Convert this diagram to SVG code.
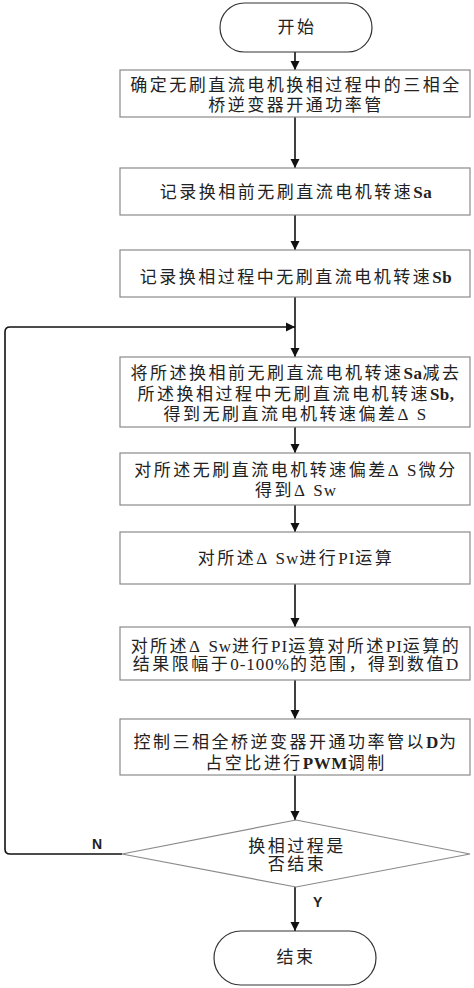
<svg xmlns="http://www.w3.org/2000/svg" width="474" height="988" viewBox="0 0 474 988">
<style>
.box{fill:#fff;stroke:#8a8a8a;stroke-width:1.2}
.term{fill:#fff;stroke:#333;stroke-width:1.2}
.t{font-family:"Liberation Serif","Noto Sans CJK SC",serif;font-size:17px;fill:#222;text-anchor:middle;letter-spacing:2.5px}
.b{font-weight:bold;letter-spacing:0.5px}
.l{letter-spacing:1px}
.lbl{font-family:"Liberation Sans",Arial,sans-serif;font-size:14px;font-weight:bold;fill:#222}
.ln{fill:none;stroke:#111;stroke-width:1.6}
</style>
<defs>
<marker id="ah" markerWidth="10" markerHeight="10" refX="9" refY="5" orient="auto" markerUnits="userSpaceOnUse">
<path d="M0,0.5 L9,5 L0,9.5 Z" fill="#111"/>
</marker>
</defs>
<rect width="474" height="988" fill="#fff"/>
<g id="connectors">
<line class="ln" x1="295" y1="52" x2="295" y2="70" marker-end="url(#ah)"/>
<line class="ln" x1="295" y1="117" x2="295" y2="168" marker-end="url(#ah)"/>
<line class="ln" x1="295" y1="215" x2="295" y2="250" marker-end="url(#ah)"/>
<line class="ln" x1="295" y1="297" x2="295" y2="357" marker-end="url(#ah)"/>
<line class="ln" x1="295" y1="427" x2="295" y2="453" marker-end="url(#ah)"/>
<line class="ln" x1="295" y1="505" x2="295" y2="532" marker-end="url(#ah)"/>
<line class="ln" x1="295" y1="584" x2="295" y2="627" marker-end="url(#ah)"/>
<line class="ln" x1="295" y1="680" x2="295" y2="719" marker-end="url(#ah)"/>
<line class="ln" x1="295" y1="775" x2="295" y2="820" marker-end="url(#ah)"/>
<line class="ln" x1="295" y1="887" x2="295" y2="931" marker-end="url(#ah)"/>
<path class="ln" d="M122,854 L10,854 Q5,854 5,849 L5,332 Q5,327 10,327 L295,327" marker-end="url(#ah)"/>
<text class="lbl" x="92" y="849">N</text>
<text class="lbl" x="313" y="907">Y</text>
</g>
<g id="start">
<rect class="term" x="220" y="3" width="152" height="49" rx="24.5" ry="24.5"/>
<text class="t" x="297" y="33">开始</text>
</g>
<g id="step1">
<rect class="box" x="120" y="70" width="350" height="47"/>
<text class="t" x="296" y="91">确定无刷直流电机换相过程中的三相全</text>
<text class="t" x="296" y="111">桥逆变器开通功率管</text>
</g>
<g id="step2">
<rect class="box" x="120" y="168" width="350" height="47"/>
<text class="t" x="296" y="198">记录换相前无刷直流电机转速<tspan class="b">Sa</tspan></text>
</g>
<g id="step3">
<rect class="box" x="120" y="250" width="350" height="47"/>
<text class="t" x="296" y="283">记录换相过程中无刷直流电机转速<tspan class="b">Sb</tspan></text>
</g>
<g id="step4">
<rect class="box" x="120" y="357" width="350" height="70"/>
<text class="t" x="296" y="379">将所述换相前无刷直流电机转速<tspan class="b">Sa</tspan>减去</text>
<text class="t" x="296" y="400">所述换相过程中无刷直流电机转速<tspan class="b">Sb,</tspan></text>
<text class="t" x="296" y="420">得到无刷直流电机转速偏差Δ S</text>
</g>
<g id="step5">
<rect class="box" x="120" y="453" width="350" height="52"/>
<text class="t" x="296" y="476">对所述无刷直流电机转速偏差Δ S微分</text>
<text class="t" x="296" y="496">得到Δ <tspan class="l">Sw</tspan></text>
</g>
<g id="step6">
<rect class="box" x="120" y="532" width="350" height="52"/>
<text class="t" x="296" y="564">对所述Δ <tspan class="l">Sw</tspan>进行<tspan class="l">PI</tspan>运算</text>
</g>
<g id="step7">
<rect class="box" x="120" y="627" width="350" height="53"/>
<text class="t" x="296" y="652">对所述Δ <tspan class="l">Sw</tspan>进行<tspan class="l">PI</tspan>运算对所述<tspan class="l">PI</tspan>运算的</text>
<text class="t" x="296" y="670">结果限幅于<tspan class="l">0-100%</tspan>的范围，得到数值<tspan class="l">D</tspan></text>
</g>
<g id="step8">
<rect class="box" x="120" y="719" width="350" height="56"/>
<text class="t" x="296" y="748">控制三相全桥逆变器开通功率管以<tspan class="b">D</tspan>为</text>
<text class="t" x="296" y="769">占空比进行<tspan class="b">PWM</tspan>调制</text>
</g>
<g id="decision">
<polygon class="box" points="296,820 470,854 296,887 122,854"/>
<text class="t" x="297" y="852">换相过程是</text>
<text class="t" x="297" y="870">否结束</text>
</g>
<g id="end">
<rect class="term" x="214" y="931" width="162" height="54" rx="27" ry="27"/>
<text class="t" x="296" y="963">结束</text>
</g>
</svg>
